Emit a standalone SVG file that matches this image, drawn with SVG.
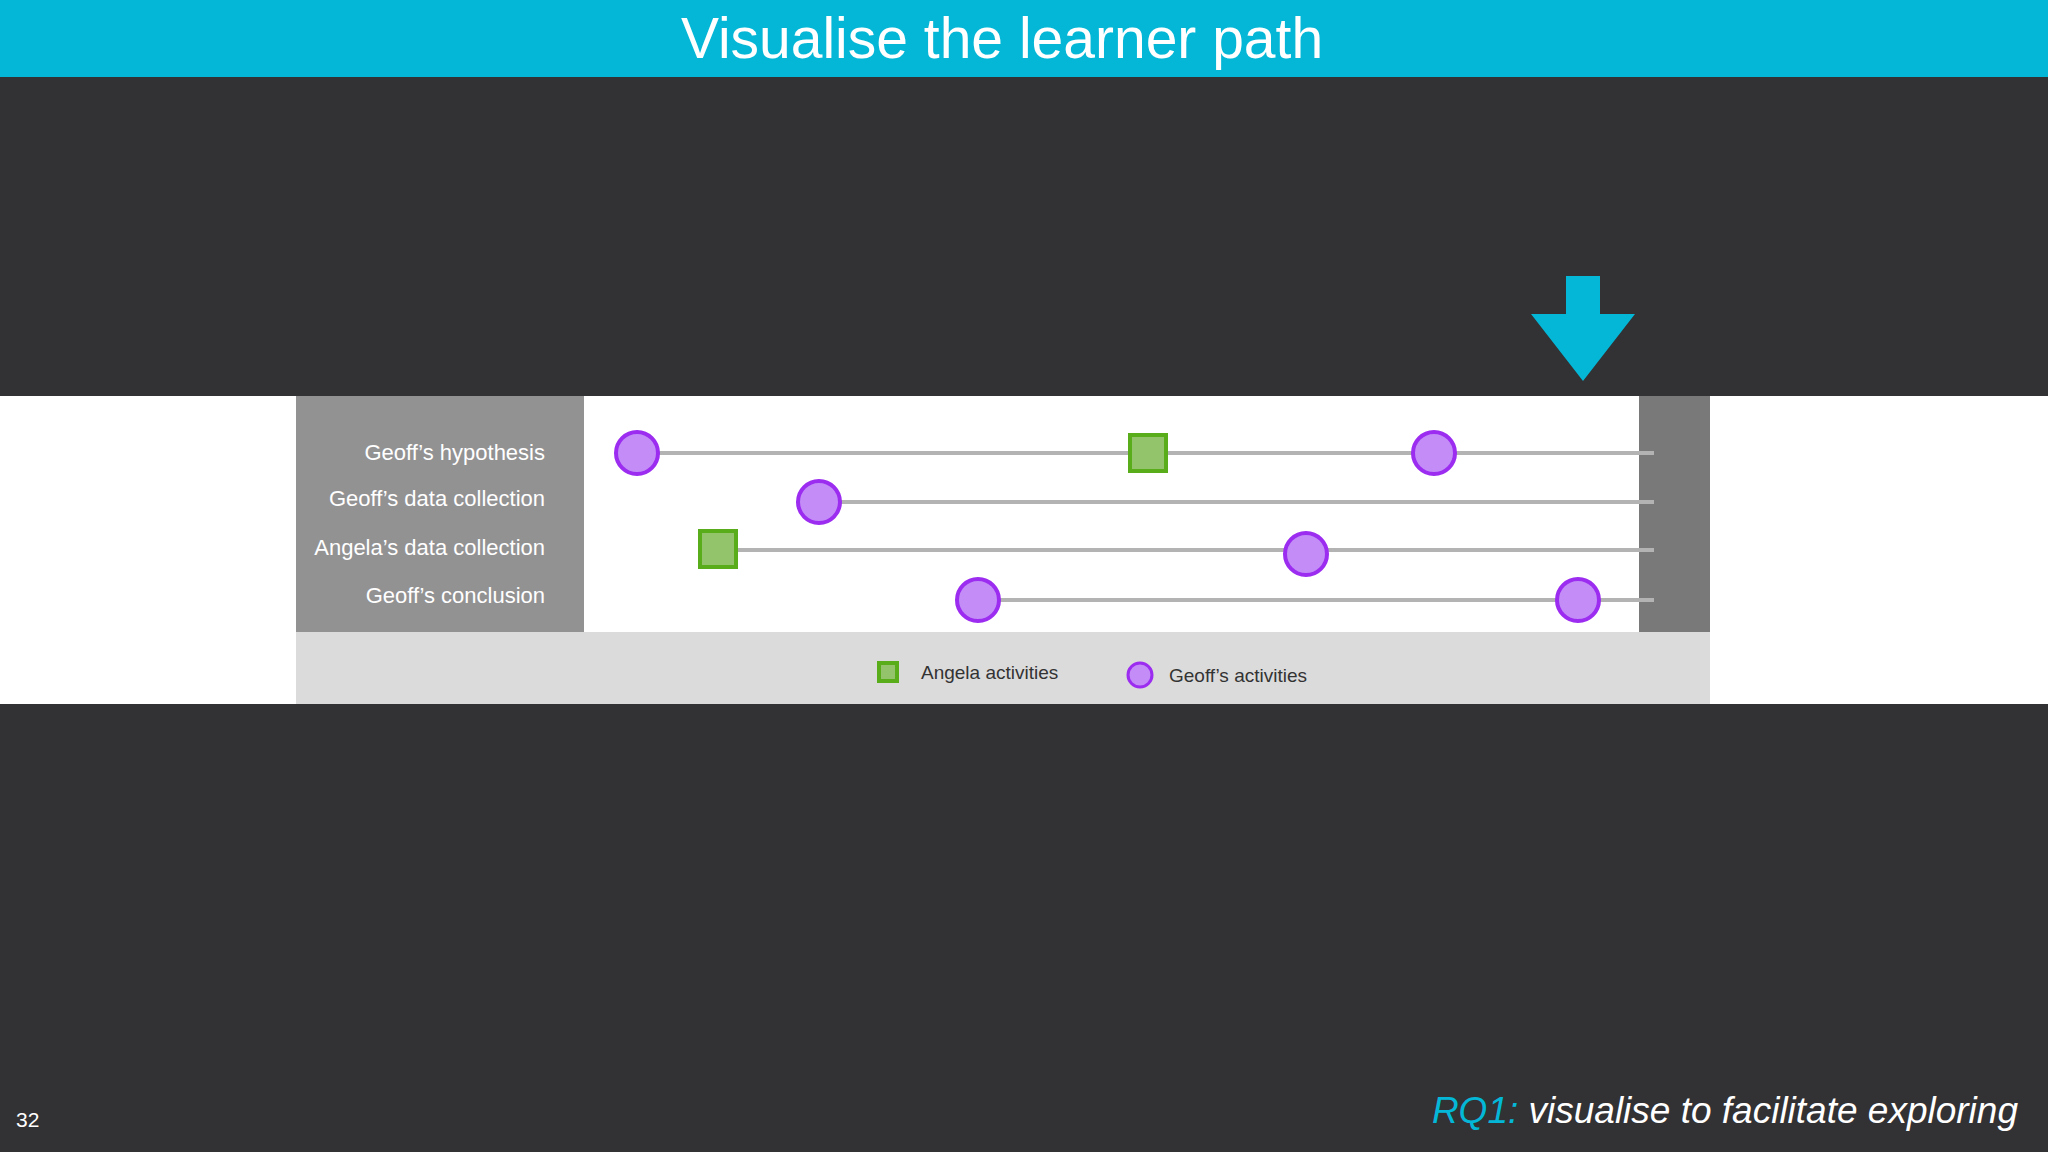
<svg xmlns="http://www.w3.org/2000/svg" width="2048" height="1152" viewBox="0 0 2048 1152">
<style>
.lbl{font-family:"Helvetica","Liberation Sans",Arial,sans-serif;font-size:22px;fill:#ffffff;text-anchor:end}
.leg{font-family:"Liberation Sans",Arial,sans-serif;font-size:19px;fill:#333}
.track{stroke:#b3b3b3;stroke-width:4}
.g{fill:#c38cf7;stroke:#9b2cf0;stroke-width:4}
.a{fill:#93c36b;stroke:#5aad1a;stroke-width:4}
</style>
<rect width="2048" height="1152" fill="#323133"/>
<rect width="2048" height="77" fill="#04b7d7"/>
<text x="1002" y="58" font-family="Liberation Sans,Arial,sans-serif" font-size="57" fill="#fff" text-anchor="middle">Visualise the learner path</text>
<rect x="0" y="396" width="2048" height="308" fill="#fff"/>
<rect x="296" y="632" width="1414" height="72" fill="#dcdbdc"/>
<rect x="296" y="396" width="288" height="236" fill="#939293"/>
<rect x="1639" y="396" width="71" height="236" fill="#7a797a"/>
<g id="arrow"><polygon points="1566,276 1600,276 1600,314 1635,314 1583,381 1531,314 1566,314" fill="#04b7d7"/></g>
<g id="connectors">
<line class="track" x1="637" y1="453" x2="1654" y2="453"/>
<line class="track" x1="819" y1="502" x2="1654" y2="502"/>
<line class="track" x1="718" y1="550" x2="1654" y2="550"/>
<line class="track" x1="978" y1="600" x2="1654" y2="600"/>
</g>
<g id="labels">
<text class="lbl" x="545" y="460">Geoff’s hypothesis</text>
<text class="lbl" x="545" y="506">Geoff’s data collection</text>
<text class="lbl" x="545" y="555">Angela’s data collection</text>
<text class="lbl" x="545" y="603">Geoff’s conclusion</text>
</g>
<g id="n1"><circle class="g" cx="637" cy="453" r="21"/></g>
<g id="n2"><rect class="a" x="1130" y="435" width="36" height="36"/></g>
<g id="n3"><circle class="g" cx="1434" cy="453" r="21"/></g>
<g id="n4"><circle class="g" cx="819" cy="502" r="21"/></g>
<g id="n5"><rect class="a" x="700" y="531" width="36" height="36"/></g>
<g id="n6"><circle class="g" cx="1306" cy="554" r="21"/></g>
<g id="n7"><circle class="g" cx="978" cy="600" r="21"/></g>
<g id="n8"><circle class="g" cx="1578" cy="600" r="21"/></g>
<g id="legend">
<rect x="879" y="663" width="18" height="18" fill="#93c36b" stroke="#5aad1a" stroke-width="4"/>
<text class="leg" x="921" y="679">Angela activities</text>
<circle cx="1140" cy="675" r="12" fill="#c38cf7" stroke="#9b2cf0" stroke-width="3"/>
<text class="leg" x="1169" y="682">Geoff’s activities</text>
</g>
<text x="16" y="1127" font-family="Liberation Sans,Arial,sans-serif" font-size="21" fill="#fff">32</text>
<text x="2018" y="1123" font-family="Liberation Sans,Arial,sans-serif" font-size="37" font-style="italic" fill="#fff" text-anchor="end"><tspan fill="#04b7d7">RQ1:</tspan> visualise to facilitate exploring</text>
</svg>
